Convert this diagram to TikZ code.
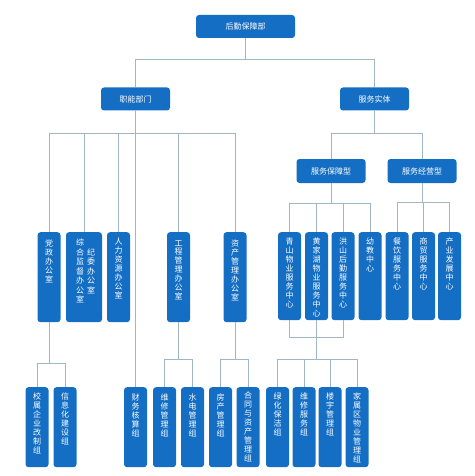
\documentclass[tikz,border=0pt]{standalone}
\usepackage{fontspec}
\setmainfont{Noto Sans CJK SC}
\definecolor{boxblue}{RGB}{20,110,196}
\definecolor{linegray}{RGB}{160,182,198}
\newcommand\vcol[2]{\parbox[t][#1][t]{16pt}{\centering #2}}
\tikzset{
  unit/.style={fill=boxblue, text=white, rounded corners=3pt, inner sep=0pt,
    align=center, font=\fontsize{8}{8.9}\selectfont},
  head/.style={unit, minimum width=69pt, minimum height=23pt},
  tall/.style={unit, anchor=north, minimum width=23pt, minimum height=#1pt},
  link/.style={draw=linegray, line width=1pt}
}

\begin{document}
\begin{tikzpicture}[x=1pt, y=-1pt]
\useasboundingbox (0,0) rectangle (474,476);

\node (hq) [head, minimum width=99pt] at (245.5,26.5) {后勤保障部};
\node (zhineng) [head] at (135.5,99) {职能部门};
\node (fuwu) [head] at (374.5,99) {服务实体};
\node (baozhang) [head, minimum height=24pt] at (331,171) {服务保障型};
\node (jingying) [head, minimum height=24pt] at (422,171) {服务经营型};

\node (dangzheng) [tall=90] at (49,232) {\vcol{74pt}{党\\政\\办\\公\\室}};
\node (jiwei) [tall=90, minimum width=36pt] at (84,232)
  {\vcol{76pt}{\begin{tabular}{@{}c@{\hspace{3pt}}c@{}}综&\\合&纪\\监&委\\督&办\\办&公\\公&室\\室&\end{tabular}}};
\node (renli) [tall=90] at (118.5,232) {\vcol{78pt}{人\\力\\资\\源\\办\\公\\室}};
\node (gongcheng) [tall=90] at (178.5,232) {\vcol{74pt}{工\\程\\管\\理\\办\\公\\室}};
\node (zichan) [tall=90] at (235,232) {\vcol{74pt}{资\\产\\管\\理\\办\\公\\室}};

\node (qingshan) [tall=88] at (289.5,232) {\vcol{76pt}{青\\山\\物\\业\\服\\务\\中\\心}};
\node (huangjiahu) [tall=88] at (316.5,232) {\vcol{76pt}{黄\\家\\湖\\物\\业\\服\\务\\中\\心}};
\node (hongshan) [tall=88] at (343,232) {\vcol{76pt}{洪\\山\\后\\勤\\服\\务\\中\\心}};
\node (youjiao) [tall=88] at (370,232) {\vcol{76pt}{幼\\教\\中\\心}};
\node (canyin) [tall=88] at (397,232) {\vcol{76pt}{餐\\饮\\服\\务\\中\\心}};
\node (shangmao) [tall=88] at (423.5,232) {\vcol{76pt}{商\\贸\\服\\务\\中\\心}};
\node (chanye) [tall=88] at (449.5,232) {\vcol{76pt}{产\\业\\发\\展\\中\\心}};

\node (xiaoshu) [tall=80] at (37,387) {\vcol{68pt}{校\\属\\企\\业\\改\\制\\组}};
\node (xinxi) [tall=80] at (65,387) {\vcol{68pt}{信\\息\\化\\建\\设\\组}};
\node (caiwu) [tall=80] at (135.5,387) {\vcol{66pt}{财\\务\\核\\算\\组}};
\node (weixiu) [tall=80] at (164.5,387) {\vcol{66pt}{维\\修\\管\\理\\组}};
\node (shuidian) [tall=80] at (192.5,387) {\vcol{66pt}{水\\电\\管\\理\\组}};
\node (fangchan) [tall=80] at (220.5,387) {\vcol{66pt}{房\\产\\管\\理\\组}};
\node (hetong) [tall=80] at (248,387) {\vcol{70pt}{合\\同\\与\\资\\产\\管\\理\\组}};
\node (lvhua) [tall=80] at (277.5,387) {\vcol{68pt}{绿\\化\\保\\洁\\组}};
\node (weixiufw) [tall=80] at (304,387) {\vcol{68pt}{维\\修\\服\\务\\组}};
\node (louyu) [tall=80] at (330,387) {\vcol{68pt}{楼\\宇\\管\\理\\组}};
\node (jiashu) [tall=80] at (357,387) {\vcol{68pt}{家\\属\\区\\物\\业\\管\\理\\组}};

\foreach \k in {zhineng,fuwu}
  \draw[link] (hq.south) -- ++(0,21) -| (\k.north);
\foreach \k in {dangzheng,jiwei,renli,gongcheng,zichan}
  \draw[link] (zhineng.south) -- ++(0,23) -| (\k.north);
\draw[link] (zhineng.south) -- (caiwu.north);
\foreach \k in {baozhang,jingying}
  \draw[link] (fuwu.south) -- ++(0,23) -| (\k.north);
\foreach \k in {xiaoshu,xinxi}
  \draw[link] (dangzheng.south) -- ++(0,41) -| (\k.north);
\foreach \k in {weixiu,shuidian}
  \draw[link] (gongcheng.south) -- ++(0,37) -| (\k.north);
\foreach \k in {fangchan,hetong}
  \draw[link] (zichan.south) -- ++(0,37) -| (\k.north);
\foreach \k in {qingshan,huangjiahu,hongshan,youjiao}
  \draw[link] (baozhang.south) -- ++(0,20) -| (\k.north);
\foreach \k in {canyin,shangmao,chanye}
  \draw[link] (jingying.south) -- ++(0,19) -| (\k.north);
\draw[link] (qingshan.south) -- ++(0,17) -| (hongshan.south);
\foreach \k in {lvhua,weixiufw,louyu,jiashu}
  \draw[link] (huangjiahu.south) -- ++(0,39) -| (\k.north);

\end{tikzpicture}
\end{document}
